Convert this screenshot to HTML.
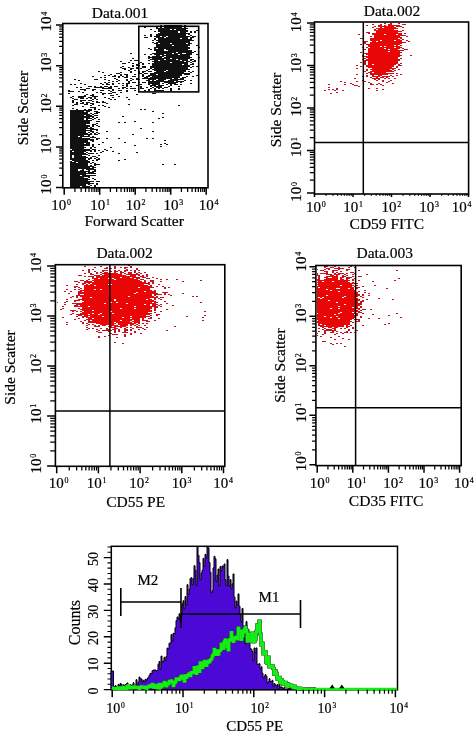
<!DOCTYPE html><html><head><meta charset="utf-8"><style>html,body{margin:0;padding:0;background:#fff;width:476px;height:736px;overflow:hidden}svg{display:block;filter:blur(0.4px)}text{font-family:"Liberation Serif", serif;fill:#000;stroke:#000;stroke-width:0.2px}</style></head><body><svg width="476" height="736" viewBox="0 0 476 736"><path d="M160 25h2v1h-2zM164 25h18v1h-18zM184 25h2v1h-2zM156 26h28v1h-28zM186 26h4v1h-4zM144 27h2v1h-2zM156 27h2v1h-2zM160 27h2v1h-2zM164 27h18v1h-18zM184 27h2v1h-2zM156 28h32v1h-32zM150 29h2v1h-2zM158 29h12v1h-12zM172 29h2v1h-2zM176 29h10v1h-10zM158 30h30v1h-30zM196 30h2v1h-2zM154 31h2v1h-2zM158 31h20v1h-20zM180 31h8v1h-8zM190 31h2v1h-2zM194 31h2v1h-2zM160 32h18v1h-18zM180 32h6v1h-6zM190 32h2v1h-2zM194 32h2v1h-2zM158 33h32v1h-32zM150 34h2v1h-2zM156 34h30v1h-30zM188 34h2v1h-2zM144 35h2v1h-2zM150 35h2v1h-2zM156 35h30v1h-30zM190 35h2v1h-2zM150 36h2v1h-2zM154 36h6v1h-6zM162 36h4v1h-4zM168 36h22v1h-22zM192 36h4v1h-4zM144 37h4v1h-4zM156 37h8v1h-8zM166 37h22v1h-22zM190 37h4v1h-4zM154 38h2v1h-2zM158 38h22v1h-22zM182 38h6v1h-6zM190 38h2v1h-2zM154 39h2v1h-2zM158 39h34v1h-34zM152 40h2v1h-2zM156 40h38v1h-38zM158 41h32v1h-32zM152 42h2v1h-2zM156 42h34v1h-34zM154 43h4v1h-4zM160 43h10v1h-10zM172 43h14v1h-14zM188 43h4v1h-4zM156 44h34v1h-34zM156 45h16v1h-16zM174 45h16v1h-16zM196 45h2v1h-2zM156 46h32v1h-32zM154 47h36v1h-36zM198 47h2v1h-2zM148 48h2v1h-2zM154 48h2v1h-2zM158 48h32v1h-32zM150 49h2v1h-2zM154 49h10v1h-10zM166 49h22v1h-22zM154 50h10v1h-10zM168 50h24v1h-24zM156 51h36v1h-36zM194 51h2v1h-2zM156 52h20v1h-20zM178 52h16v1h-16zM130 53h2v1h-2zM152 53h20v1h-20zM174 53h8v1h-8zM186 53h6v1h-6zM144 54h2v1h-2zM150 54h2v1h-2zM154 54h10v1h-10zM166 54h12v1h-12zM180 54h12v1h-12zM196 54h2v1h-2zM156 55h4v1h-4zM162 55h28v1h-28zM148 56h2v1h-2zM152 56h12v1h-12zM166 56h24v1h-24zM148 57h14v1h-14zM164 57h28v1h-28zM198 57h2v1h-2zM132 58h2v1h-2zM148 58h2v1h-2zM152 58h18v1h-18zM172 58h18v1h-18zM150 59h14v1h-14zM166 59h10v1h-10zM178 59h10v1h-10zM190 59h4v1h-4zM130 60h2v1h-2zM134 60h4v1h-4zM148 60h2v1h-2zM154 60h4v1h-4zM160 60h20v1h-20zM182 60h6v1h-6zM190 60h2v1h-2zM194 60h2v1h-2zM120 61h2v1h-2zM152 61h32v1h-32zM186 61h4v1h-4zM192 61h4v1h-4zM128 62h2v1h-2zM140 62h2v1h-2zM154 62h16v1h-16zM172 62h16v1h-16zM190 62h2v1h-2zM122 63h4v1h-4zM132 63h2v1h-2zM138 63h2v1h-2zM142 63h2v1h-2zM148 63h2v1h-2zM152 63h36v1h-36zM192 63h2v1h-2zM136 64h2v1h-2zM142 64h2v1h-2zM152 64h30v1h-30zM184 64h4v1h-4zM190 64h4v1h-4zM132 65h2v1h-2zM136 65h4v1h-4zM152 65h38v1h-38zM122 66h2v1h-2zM132 66h2v1h-2zM142 66h4v1h-4zM150 66h40v1h-40zM192 66h2v1h-2zM196 66h2v1h-2zM120 67h2v1h-2zM128 67h2v1h-2zM136 67h2v1h-2zM142 67h4v1h-4zM150 67h38v1h-38zM190 67h2v1h-2zM122 68h4v1h-4zM130 68h4v1h-4zM136 68h2v1h-2zM140 68h2v1h-2zM150 68h2v1h-2zM154 68h34v1h-34zM124 69h2v1h-2zM130 69h2v1h-2zM148 69h2v1h-2zM152 69h38v1h-38zM128 70h2v1h-2zM134 70h2v1h-2zM146 70h2v1h-2zM154 70h12v1h-12zM168 70h18v1h-18zM98 71h2v1h-2zM130 71h2v1h-2zM138 71h2v1h-2zM142 71h4v1h-4zM148 71h4v1h-4zM156 71h8v1h-8zM166 71h20v1h-20zM188 71h2v1h-2zM192 71h2v1h-2zM102 72h2v1h-2zM120 72h2v1h-2zM130 72h2v1h-2zM138 72h2v1h-2zM142 72h2v1h-2zM154 72h30v1h-30zM190 72h2v1h-2zM116 73h4v1h-4zM138 73h4v1h-4zM144 73h4v1h-4zM150 73h40v1h-40zM110 74h2v1h-2zM120 74h2v1h-2zM124 74h4v1h-4zM134 74h2v1h-2zM142 74h2v1h-2zM150 74h6v1h-6zM158 74h24v1h-24zM184 74h6v1h-6zM104 75h2v1h-2zM108 75h2v1h-2zM114 75h2v1h-2zM120 75h2v1h-2zM126 75h2v1h-2zM142 75h2v1h-2zM148 75h34v1h-34zM196 75h2v1h-2zM92 76h2v1h-2zM112 76h4v1h-4zM118 76h2v1h-2zM122 76h2v1h-2zM126 76h2v1h-2zM132 76h4v1h-4zM142 76h2v1h-2zM146 76h4v1h-4zM152 76h28v1h-28zM186 76h2v1h-2zM192 76h2v1h-2zM100 77h2v1h-2zM104 77h2v1h-2zM118 77h2v1h-2zM124 77h4v1h-4zM144 77h4v1h-4zM150 77h30v1h-30zM182 77h4v1h-4zM114 78h2v1h-2zM130 78h2v1h-2zM136 78h2v1h-2zM142 78h30v1h-30zM174 78h4v1h-4zM180 78h4v1h-4zM74 79h2v1h-2zM94 79h4v1h-4zM104 79h2v1h-2zM116 79h2v1h-2zM126 79h2v1h-2zM132 79h2v1h-2zM136 79h4v1h-4zM148 79h8v1h-8zM158 79h8v1h-8zM170 79h14v1h-14zM78 80h2v1h-2zM108 80h2v1h-2zM118 80h2v1h-2zM126 80h2v1h-2zM130 80h2v1h-2zM146 80h4v1h-4zM152 80h2v1h-2zM156 80h8v1h-8zM168 80h10v1h-10zM184 80h2v1h-2zM190 80h2v1h-2zM112 81h2v1h-2zM116 81h2v1h-2zM128 81h2v1h-2zM148 81h26v1h-26zM176 81h8v1h-8zM104 82h2v1h-2zM108 82h2v1h-2zM128 82h2v1h-2zM132 82h4v1h-4zM138 82h2v1h-2zM142 82h4v1h-4zM148 82h12v1h-12zM164 82h14v1h-14zM180 82h2v1h-2zM80 83h2v1h-2zM100 83h2v1h-2zM106 83h2v1h-2zM112 83h2v1h-2zM118 83h2v1h-2zM122 83h2v1h-2zM126 83h4v1h-4zM148 83h12v1h-12zM162 83h2v1h-2zM168 83h8v1h-8zM190 83h2v1h-2zM70 84h2v1h-2zM74 84h2v1h-2zM84 84h2v1h-2zM102 84h2v1h-2zM106 84h4v1h-4zM112 84h2v1h-2zM126 84h2v1h-2zM138 84h4v1h-4zM148 84h2v1h-2zM152 84h8v1h-8zM166 84h2v1h-2zM170 84h2v1h-2zM174 84h4v1h-4zM180 84h2v1h-2zM122 85h2v1h-2zM126 85h2v1h-2zM136 85h2v1h-2zM150 85h6v1h-6zM158 85h6v1h-6zM170 85h2v1h-2zM88 86h4v1h-4zM94 86h2v1h-2zM100 86h2v1h-2zM104 86h4v1h-4zM110 86h2v1h-2zM114 86h4v1h-4zM126 86h2v1h-2zM130 86h2v1h-2zM140 86h2v1h-2zM150 86h2v1h-2zM154 86h8v1h-8zM168 86h2v1h-2zM178 86h2v1h-2zM76 87h2v1h-2zM80 87h2v1h-2zM94 87h10v1h-10zM108 87h4v1h-4zM122 87h4v1h-4zM140 87h2v1h-2zM146 87h2v1h-2zM152 87h2v1h-2zM156 87h6v1h-6zM164 87h4v1h-4zM86 88h4v1h-4zM102 88h10v1h-10zM118 88h2v1h-2zM122 88h2v1h-2zM126 88h2v1h-2zM130 88h6v1h-6zM140 88h4v1h-4zM150 88h2v1h-2zM154 88h2v1h-2zM158 88h2v1h-2zM162 88h2v1h-2zM170 88h2v1h-2zM178 88h2v1h-2zM80 89h6v1h-6zM92 89h4v1h-4zM112 89h2v1h-2zM148 89h2v1h-2zM154 89h2v1h-2zM170 89h2v1h-2zM178 89h2v1h-2zM68 90h2v1h-2zM84 90h2v1h-2zM92 90h2v1h-2zM100 90h4v1h-4zM108 90h2v1h-2zM112 90h2v1h-2zM118 90h4v1h-4zM126 90h2v1h-2zM134 90h2v1h-2zM144 90h2v1h-2zM148 90h2v1h-2zM154 90h10v1h-10zM170 90h2v1h-2zM68 91h6v1h-6zM78 91h2v1h-2zM110 91h2v1h-2zM126 91h2v1h-2zM82 92h2v1h-2zM96 92h2v1h-2zM100 92h2v1h-2zM112 92h4v1h-4zM120 92h2v1h-2zM68 93h2v1h-2zM102 93h4v1h-4zM108 93h4v1h-4zM152 93h4v1h-4zM86 94h2v1h-2zM92 94h2v1h-2zM102 94h2v1h-2zM116 94h2v1h-2zM136 94h2v1h-2zM84 95h2v1h-2zM90 95h4v1h-4zM110 95h4v1h-4zM72 96h2v1h-2zM78 96h8v1h-8zM92 96h6v1h-6zM118 96h2v1h-2zM70 97h2v1h-2zM78 97h6v1h-6zM88 97h4v1h-4zM94 97h2v1h-2zM104 97h2v1h-2zM112 97h2v1h-2zM126 97h2v1h-2zM72 98h2v1h-2zM80 98h4v1h-4zM86 98h2v1h-2zM90 98h2v1h-2zM94 98h2v1h-2zM108 98h2v1h-2zM74 99h4v1h-4zM92 99h2v1h-2zM96 99h2v1h-2zM110 99h2v1h-2zM114 99h2v1h-2zM128 99h2v1h-2zM72 100h2v1h-2zM80 100h6v1h-6zM88 100h4v1h-4zM72 101h2v1h-2zM80 101h2v1h-2zM92 101h2v1h-2zM96 101h2v1h-2zM102 101h2v1h-2zM72 102h2v1h-2zM76 102h2v1h-2zM82 102h2v1h-2zM86 102h4v1h-4zM96 102h4v1h-4zM102 102h4v1h-4zM76 103h2v1h-2zM80 103h4v1h-4zM86 103h2v1h-2zM90 103h4v1h-4zM106 103h2v1h-2zM74 104h4v1h-4zM84 104h4v1h-4zM92 104h2v1h-2zM128 104h2v1h-2zM72 105h2v1h-2zM90 105h2v1h-2zM98 105h2v1h-2zM102 105h2v1h-2zM178 105h2v1h-2zM82 106h2v1h-2zM104 106h2v1h-2zM90 107h6v1h-6zM108 107h2v1h-2zM72 108h2v1h-2zM94 108h2v1h-2zM76 109h2v1h-2zM84 109h2v1h-2zM88 109h4v1h-4zM94 109h2v1h-2zM98 109h2v1h-2zM140 109h2v1h-2zM144 109h2v1h-2zM70 110h22v1h-22zM70 111h14v1h-14zM86 111h4v1h-4zM94 111h4v1h-4zM152 111h2v1h-2zM70 112h18v1h-18zM96 112h4v1h-4zM70 113h18v1h-18zM90 113h2v1h-2zM94 113h4v1h-4zM162 113h2v1h-2zM70 114h20v1h-20zM92 114h2v1h-2zM70 115h14v1h-14zM86 115h6v1h-6zM94 115h4v1h-4zM70 116h24v1h-24zM122 116h2v1h-2zM70 117h20v1h-20zM92 117h2v1h-2zM96 117h2v1h-2zM162 117h2v1h-2zM70 118h14v1h-14zM86 118h6v1h-6zM94 118h2v1h-2zM158 118h2v1h-2zM70 119h14v1h-14zM86 119h2v1h-2zM92 119h2v1h-2zM98 119h2v1h-2zM70 120h22v1h-22zM70 121h20v1h-20zM96 121h4v1h-4zM134 121h2v1h-2zM70 122h20v1h-20zM118 122h2v1h-2zM124 122h2v1h-2zM152 122h2v1h-2zM70 123h20v1h-20zM96 123h2v1h-2zM70 124h16v1h-16zM92 124h4v1h-4zM70 125h20v1h-20zM92 125h2v1h-2zM96 125h2v1h-2zM70 126h20v1h-20zM92 126h2v1h-2zM98 126h2v1h-2zM70 127h18v1h-18zM90 127h2v1h-2zM70 128h24v1h-24zM140 128h2v1h-2zM70 129h16v1h-16zM90 129h8v1h-8zM70 130h22v1h-22zM96 130h2v1h-2zM70 131h16v1h-16zM90 131h4v1h-4zM106 131h2v1h-2zM152 131h2v1h-2zM70 132h16v1h-16zM88 132h2v1h-2zM92 132h2v1h-2zM96 132h2v1h-2zM70 133h18v1h-18zM90 133h2v1h-2zM94 133h2v1h-2zM98 133h2v1h-2zM70 134h22v1h-22zM94 134h4v1h-4zM132 134h2v1h-2zM70 135h14v1h-14zM88 135h2v1h-2zM70 136h8v1h-8zM80 136h10v1h-10zM92 136h2v1h-2zM70 137h12v1h-12zM90 137h6v1h-6zM70 138h20v1h-20zM96 138h4v1h-4zM106 138h2v1h-2zM118 138h2v1h-2zM146 138h2v1h-2zM152 138h2v1h-2zM70 139h24v1h-24zM96 139h2v1h-2zM70 140h18v1h-18zM90 140h4v1h-4zM164 140h2v1h-2zM70 141h18v1h-18zM92 141h2v1h-2zM70 142h20v1h-20zM102 142h2v1h-2zM124 142h2v1h-2zM70 143h14v1h-14zM86 143h4v1h-4zM164 143h2v1h-2zM70 144h20v1h-20zM92 144h2v1h-2zM98 144h2v1h-2zM160 144h2v1h-2zM166 144h2v1h-2zM70 145h20v1h-20zM92 145h2v1h-2zM134 145h2v1h-2zM70 146h14v1h-14zM92 146h2v1h-2zM160 146h2v1h-2zM70 147h16v1h-16zM90 147h2v1h-2zM94 147h2v1h-2zM110 147h2v1h-2zM70 148h14v1h-14zM90 148h2v1h-2zM72 149h18v1h-18zM92 149h4v1h-4zM104 149h2v1h-2zM70 150h22v1h-22zM94 150h2v1h-2zM98 150h2v1h-2zM106 150h2v1h-2zM70 151h2v1h-2zM74 151h12v1h-12zM90 151h2v1h-2zM94 151h2v1h-2zM102 151h2v1h-2zM112 151h2v1h-2zM70 152h14v1h-14zM86 152h2v1h-2zM100 152h2v1h-2zM136 152h2v1h-2zM70 153h16v1h-16zM88 153h6v1h-6zM96 153h2v1h-2zM118 153h2v1h-2zM70 154h18v1h-18zM70 155h2v1h-2zM74 155h8v1h-8zM88 155h2v1h-2zM98 155h2v1h-2zM70 156h2v1h-2zM74 156h12v1h-12zM92 156h4v1h-4zM70 157h2v1h-2zM74 157h14v1h-14zM90 157h2v1h-2zM96 157h2v1h-2zM70 158h16v1h-16zM88 158h4v1h-4zM94 158h2v1h-2zM98 158h2v1h-2zM70 159h16v1h-16zM88 159h2v1h-2zM96 159h4v1h-4zM124 159h2v1h-2zM72 160h16v1h-16zM92 160h2v1h-2zM96 160h2v1h-2zM118 160h2v1h-2zM70 161h2v1h-2zM74 161h16v1h-16zM70 162h6v1h-6zM78 162h12v1h-12zM92 162h2v1h-2zM70 163h18v1h-18zM90 163h2v1h-2zM94 163h2v1h-2zM70 164h18v1h-18zM94 164h6v1h-6zM162 164h2v1h-2zM174 164h2v1h-2zM70 165h18v1h-18zM90 165h2v1h-2zM94 165h2v1h-2zM70 166h24v1h-24zM70 167h20v1h-20zM92 167h4v1h-4zM70 168h24v1h-24zM70 169h8v1h-8zM82 169h2v1h-2zM86 169h10v1h-10zM70 170h8v1h-8zM80 170h4v1h-4zM88 170h2v1h-2zM94 170h2v1h-2zM70 171h20v1h-20zM92 171h4v1h-4zM70 172h16v1h-16zM88 172h6v1h-6zM70 173h26v1h-26zM70 174h16v1h-16zM70 175h10v1h-10zM82 175h14v1h-14zM70 176h20v1h-20zM70 177h14v1h-14zM88 177h2v1h-2zM70 178h18v1h-18zM92 178h2v1h-2zM70 179h20v1h-20zM94 179h2v1h-2zM70 180h18v1h-18zM70 181h24v1h-24zM96 181h4v1h-4zM70 182h20v1h-20zM70 183h24v1h-24zM96 183h2v1h-2zM70 184h16v1h-16zM88 184h2v1h-2zM96 184h2v1h-2zM70 185h16v1h-16zM90 185h2v1h-2zM94 185h2v1h-2zM70 186h10v1h-10zM82 186h8v1h-8zM94 186h2v1h-2z" fill="#111"/><rect x="62.8" y="23.5" width="145.2" height="164.3" fill="none" stroke="#000" stroke-width="1.6"/><rect x="138.8" y="26.3" width="59.9" height="65.6" fill="none" stroke="#000" stroke-width="1.6"/><path d="M64.2 187.8L64.2 194.8M99.7 187.8L99.7 194.8M135.2 187.8L135.2 194.8M170.7 187.8L170.7 194.8M206.2 187.8L206.2 194.8" stroke="#000" stroke-width="1.5" fill="none"/><path d="M74.89 187.8L74.89 192.1M81.14 187.8L81.14 192.1M85.57 187.8L85.57 192.1M89.01 187.8L89.01 192.1M91.82 187.8L91.82 192.1M94.2 187.8L94.2 192.1M96.26 187.8L96.26 192.1M98.08 187.8L98.08 192.1M110.39 187.8L110.39 192.1M116.64 187.8L116.64 192.1M121.07 187.8L121.07 192.1M124.51 187.8L124.51 192.1M127.32 187.8L127.32 192.1M129.7 187.8L129.7 192.1M131.76 187.8L131.76 192.1M133.58 187.8L133.58 192.1M145.89 187.8L145.89 192.1M152.14 187.8L152.14 192.1M156.57 187.8L156.57 192.1M160.01 187.8L160.01 192.1M162.82 187.8L162.82 192.1M165.2 187.8L165.2 192.1M167.26 187.8L167.26 192.1M169.08 187.8L169.08 192.1M181.39 187.8L181.39 192.1M187.64 187.8L187.64 192.1M192.07 187.8L192.07 192.1M195.51 187.8L195.51 192.1M198.32 187.8L198.32 192.1M200.7 187.8L200.7 192.1M202.76 187.8L202.76 192.1M204.58 187.8L204.58 192.1" stroke="#000" stroke-width="1.25" fill="none"/><path d="M62.8 187.5L56 187.5M62.8 146.9L56 146.9M62.8 106.3L56 106.3M62.8 65.7L56 65.7M62.8 25.1L56 25.1" stroke="#000" stroke-width="1.5" fill="none"/><path d="M62.8 175.28L59.2 175.28M62.8 168.13L59.2 168.13M62.8 163.06L59.2 163.06M62.8 159.12L59.2 159.12M62.8 155.91L59.2 155.91M62.8 153.19L59.2 153.19M62.8 150.83L59.2 150.83M62.8 148.76L59.2 148.76M62.8 134.68L59.2 134.68M62.8 127.53L59.2 127.53M62.8 122.46L59.2 122.46M62.8 118.52L59.2 118.52M62.8 115.31L59.2 115.31M62.8 112.59L59.2 112.59M62.8 110.23L59.2 110.23M62.8 108.16L59.2 108.16M62.8 94.08L59.2 94.08M62.8 86.93L59.2 86.93M62.8 81.86L59.2 81.86M62.8 77.92L59.2 77.92M62.8 74.71L59.2 74.71M62.8 71.99L59.2 71.99M62.8 69.63L59.2 69.63M62.8 67.56L59.2 67.56M62.8 53.48L59.2 53.48M62.8 46.33L59.2 46.33M62.8 41.26L59.2 41.26M62.8 37.32L59.2 37.32M62.8 34.11L59.2 34.11M62.8 31.39L59.2 31.39M62.8 29.03L59.2 29.03M62.8 26.96L59.2 26.96" stroke="#000" stroke-width="1.25" fill="none"/><g transform="translate(61 209.6)"><text x="0" y="0" font-size="15" text-anchor="middle">10<tspan font-size="7.95" dy="-4.6" dx="0.8">0</tspan></text></g><g transform="translate(100 209.6)"><text x="0" y="0" font-size="15" text-anchor="middle">10<tspan font-size="7.95" dy="-4.6" dx="0.8">1</tspan></text></g><g transform="translate(135.5 209.6)"><text x="0" y="0" font-size="15" text-anchor="middle">10<tspan font-size="7.95" dy="-4.6" dx="0.8">2</tspan></text></g><g transform="translate(173.3 209.6)"><text x="0" y="0" font-size="15" text-anchor="middle">10<tspan font-size="7.95" dy="-4.6" dx="0.8">3</tspan></text></g><g transform="translate(208.5 209.6)"><text x="0" y="0" font-size="15" text-anchor="middle">10<tspan font-size="7.95" dy="-4.6" dx="0.8">4</tspan></text></g><g transform="translate(51.2 186.9) rotate(-90)"><text x="-7.5" y="0" font-size="15">10<tspan font-size="7.95" dy="-4.6" dx="0.8">0</tspan></text></g><g transform="translate(51.2 146.3) rotate(-90)"><text x="-7.5" y="0" font-size="15">10<tspan font-size="7.95" dy="-4.6" dx="0.8">1</tspan></text></g><g transform="translate(51.2 105.7) rotate(-90)"><text x="-7.5" y="0" font-size="15">10<tspan font-size="7.95" dy="-4.6" dx="0.8">2</tspan></text></g><g transform="translate(51.2 65.1) rotate(-90)"><text x="-7.5" y="0" font-size="15">10<tspan font-size="7.95" dy="-4.6" dx="0.8">3</tspan></text></g><g transform="translate(51.2 24.1) rotate(-90)"><text x="-7.5" y="0" font-size="15">10<tspan font-size="7.95" dy="-4.6" dx="0.8">4</tspan></text></g><text x="120" y="18" font-size="15.5" text-anchor="middle">Data.001</text><text x="134.2" y="226" font-size="15.5" text-anchor="middle">Forward Scatter</text><text x="28.3" y="108" font-size="15.5" text-anchor="middle" transform="rotate(-90 28.3 108)">Side Scatter</text><path d="M385 23h1v1h-1zM390 23h2v1h-2zM388 24h4v1h-4zM381 25h1v1h-1zM384 25h2v1h-2zM388 25h8v1h-8zM380 26h14v1h-14zM396 26h1v1h-1zM380 27h2v1h-2zM384 27h12v1h-12zM378 28h20v1h-20zM378 29h16v1h-16zM376 30h22v1h-22zM376 31h24v1h-24zM376 32h22v1h-22zM374 33h27v1h-27zM373 34h11v1h-11zM386 34h10v1h-10zM398 34h3v1h-3zM374 35h27v1h-27zM374 36h26v1h-26zM374 37h28v1h-28zM371 38h27v1h-27zM400 38h2v1h-2zM370 39h30v1h-30zM370 40h10v1h-10zM382 40h12v1h-12zM396 40h6v1h-6zM372 41h4v1h-4zM378 41h24v1h-24zM370 42h32v1h-32zM370 43h32v1h-32zM368 44h32v1h-32zM368 45h26v1h-26zM396 45h2v1h-2zM400 45h2v1h-2zM368 46h12v1h-12zM382 46h2v1h-2zM386 46h14v1h-14zM370 47h24v1h-24zM396 47h5v1h-5zM368 48h16v1h-16zM386 48h14v1h-14zM368 49h20v1h-20zM390 49h8v1h-8zM368 50h33v1h-33zM368 51h20v1h-20zM390 51h10v1h-10zM368 52h32v1h-32zM366 53h34v1h-34zM366 54h34v1h-34zM368 55h32v1h-32zM366 56h33v1h-33zM366 57h32v1h-32zM368 58h30v1h-30zM366 59h32v1h-32zM366 60h32v1h-32zM368 61h29v1h-29zM368 62h29v1h-29zM368 63h28v1h-28zM368 64h4v1h-4zM374 64h22v1h-22zM367 65h27v1h-27zM367 66h27v1h-27zM368 67h24v1h-24zM372 68h21v1h-21zM370 69h20v1h-20zM372 70h19v1h-19zM370 71h20v1h-20zM370 72h2v1h-2zM374 72h12v1h-12zM371 73h17v1h-17zM372 74h15v1h-15zM373 75h1v1h-1zM378 75h4v1h-4zM375 76h5v1h-5zM382 76h1v1h-1z" fill="#e80606"/><path d="M384 23h1v1h-1zM398 23h2v1h-2zM372 24h2v1h-2zM380 24h2v1h-2zM402 24h4v1h-4zM366 25h2v1h-2zM378 25h3v1h-3zM396 25h4v1h-4zM374 26h2v1h-2zM378 26h2v1h-2zM397 26h5v1h-5zM372 27h2v1h-2zM402 27h2v1h-2zM376 28h2v1h-2zM374 29h2v1h-2zM374 30h2v1h-2zM402 30h2v1h-2zM400 31h2v1h-2zM366 32h4v1h-4zM368 33h2v1h-2zM372 33h2v1h-2zM401 33h1v1h-1zM404 33h2v1h-2zM358 34h2v1h-2zM372 34h1v1h-1zM401 34h1v1h-1zM401 35h5v1h-5zM370 36h2v1h-2zM406 36h2v1h-2zM360 38h4v1h-4zM370 38h1v1h-1zM402 39h2v1h-2zM406 40h2v1h-2zM364 41h4v1h-4zM408 41h2v1h-2zM364 42h2v1h-2zM402 42h4v1h-4zM364 43h2v1h-2zM360 44h2v1h-2zM366 44h2v1h-2zM362 47h2v1h-2zM366 47h2v1h-2zM401 47h1v1h-1zM402 48h2v1h-2zM364 49h2v1h-2zM404 49h4v1h-4zM401 50h3v1h-3zM360 52h2v1h-2zM400 52h2v1h-2zM364 53h2v1h-2zM362 55h2v1h-2zM400 55h2v1h-2zM410 55h2v1h-2zM362 56h4v1h-4zM399 56h1v1h-1zM364 58h2v1h-2zM400 58h2v1h-2zM362 59h2v1h-2zM398 59h2v1h-2zM364 60h2v1h-2zM398 60h2v1h-2zM364 61h2v1h-2zM397 61h1v1h-1zM360 62h2v1h-2zM364 62h2v1h-2zM397 62h1v1h-1zM364 63h2v1h-2zM396 63h2v1h-2zM400 63h2v1h-2zM364 64h2v1h-2zM398 64h2v1h-2zM356 65h2v1h-2zM366 65h1v1h-1zM398 65h4v1h-4zM360 66h2v1h-2zM366 66h1v1h-1zM396 66h2v1h-2zM396 67h2v1h-2zM356 68h2v1h-2zM393 68h3v1h-3zM366 69h2v1h-2zM392 69h2v1h-2zM398 69h2v1h-2zM366 70h2v1h-2zM391 70h1v1h-1zM394 70h2v1h-2zM364 71h2v1h-2zM390 71h4v1h-4zM368 72h2v1h-2zM366 73h2v1h-2zM370 73h1v1h-1zM388 73h6v1h-6zM396 73h2v1h-2zM356 74h2v1h-2zM370 74h2v1h-2zM387 74h1v1h-1zM400 74h2v1h-2zM366 75h2v1h-2zM372 75h1v1h-1zM390 75h2v1h-2zM396 75h2v1h-2zM362 76h2v1h-2zM366 76h2v1h-2zM372 76h3v1h-3zM383 76h7v1h-7zM392 76h2v1h-2zM370 77h2v1h-2zM376 77h2v1h-2zM380 77h4v1h-4zM386 77h2v1h-2zM354 78h2v1h-2zM372 78h8v1h-8zM384 78h2v1h-2zM388 78h2v1h-2zM394 78h2v1h-2zM374 79h2v1h-2zM378 79h2v1h-2zM362 80h2v1h-2zM376 80h2v1h-2zM382 80h2v1h-2zM390 80h2v1h-2zM340 81h2v1h-2zM356 81h2v1h-2zM364 81h2v1h-2zM382 81h2v1h-2zM388 81h2v1h-2zM344 82h2v1h-2zM368 82h2v1h-2zM386 82h2v1h-2zM350 83h2v1h-2zM370 83h2v1h-2zM378 83h2v1h-2zM392 83h2v1h-2zM328 84h2v1h-2zM344 84h2v1h-2zM352 84h2v1h-2zM370 84h4v1h-4zM376 84h2v1h-2zM380 84h2v1h-2zM354 85h4v1h-4zM382 85h2v1h-2zM358 86h2v1h-2zM328 87h2v1h-2zM336 88h2v1h-2zM368 88h2v1h-2zM376 88h2v1h-2zM328 89h2v1h-2zM332 89h2v1h-2zM336 89h2v1h-2zM382 89h2v1h-2zM324 90h2v1h-2zM334 90h2v1h-2zM342 90h2v1h-2zM376 90h2v1h-2zM336 92h2v1h-2zM330 93h2v1h-2z" fill="#c8101c"/><rect x="314.5" y="22" width="154.1" height="172" fill="none" stroke="#000" stroke-width="1.6"/><path d="M363.3 22V194" stroke="#000" stroke-width="1.5"/><path d="M314.5 142.5H468.6" stroke="#000" stroke-width="1.5"/><path d="M314.5 194L314.5 197M353 194L353 197M391.5 194L391.5 197M430 194L430 197M468.5 194L468.5 197" stroke="#000" stroke-width="1.5" fill="none"/><path d="M326.09 194L326.09 195.8M332.87 194L332.87 195.8M337.68 194L337.68 195.8M341.41 194L341.41 195.8M344.46 194L344.46 195.8M347.04 194L347.04 195.8M349.27 194L349.27 195.8M351.24 194L351.24 195.8M364.59 194L364.59 195.8M371.37 194L371.37 195.8M376.18 194L376.18 195.8M379.91 194L379.91 195.8M382.96 194L382.96 195.8M385.54 194L385.54 195.8M387.77 194L387.77 195.8M389.74 194L389.74 195.8M403.09 194L403.09 195.8M409.87 194L409.87 195.8M414.68 194L414.68 195.8M418.41 194L418.41 195.8M421.46 194L421.46 195.8M424.04 194L424.04 195.8M426.27 194L426.27 195.8M428.24 194L428.24 195.8M441.59 194L441.59 195.8M448.37 194L448.37 195.8M453.18 194L453.18 195.8M456.91 194L456.91 195.8M459.96 194L459.96 195.8M462.54 194L462.54 195.8M464.77 194L464.77 195.8M466.74 194L466.74 195.8" stroke="#000" stroke-width="1.25" fill="none"/><path d="M314.5 193L307 193M314.5 150.5L307 150.5M314.5 108L307 108M314.5 65.5L307 65.5M314.5 23L307 23" stroke="#000" stroke-width="1.5" fill="none"/><path d="M314.5 180.21L309.8 180.21M314.5 172.72L309.8 172.72M314.5 167.41L309.8 167.41M314.5 163.29L309.8 163.29M314.5 159.93L309.8 159.93M314.5 157.08L309.8 157.08M314.5 154.62L309.8 154.62M314.5 152.44L309.8 152.44M314.5 137.71L309.8 137.71M314.5 130.22L309.8 130.22M314.5 124.91L309.8 124.91M314.5 120.79L309.8 120.79M314.5 117.43L309.8 117.43M314.5 114.58L309.8 114.58M314.5 112.12L309.8 112.12M314.5 109.94L309.8 109.94M314.5 95.21L309.8 95.21M314.5 87.72L309.8 87.72M314.5 82.41L309.8 82.41M314.5 78.29L309.8 78.29M314.5 74.93L309.8 74.93M314.5 72.08L309.8 72.08M314.5 69.62L309.8 69.62M314.5 67.44L309.8 67.44M314.5 52.71L309.8 52.71M314.5 45.22L309.8 45.22M314.5 39.91L309.8 39.91M314.5 35.79L309.8 35.79M314.5 32.43L309.8 32.43M314.5 29.58L309.8 29.58M314.5 27.12L309.8 27.12M314.5 24.94L309.8 24.94" stroke="#000" stroke-width="1.25" fill="none"/><g transform="translate(315.9 212)"><text x="0" y="0" font-size="15" text-anchor="middle">10<tspan font-size="7.95" dy="-4.6" dx="0.8">0</tspan></text></g><g transform="translate(353.2 212)"><text x="0" y="0" font-size="15" text-anchor="middle">10<tspan font-size="7.95" dy="-4.6" dx="0.8">1</tspan></text></g><g transform="translate(391.3 212)"><text x="0" y="0" font-size="15" text-anchor="middle">10<tspan font-size="7.95" dy="-4.6" dx="0.8">2</tspan></text></g><g transform="translate(429 212)"><text x="0" y="0" font-size="15" text-anchor="middle">10<tspan font-size="7.95" dy="-4.6" dx="0.8">3</tspan></text></g><g transform="translate(461.6 212)"><text x="0" y="0" font-size="15" text-anchor="middle">10<tspan font-size="7.95" dy="-4.6" dx="0.8">4</tspan></text></g><g transform="translate(301.3 194.3) rotate(-90)"><text x="-7.5" y="0" font-size="15">10<tspan font-size="7.95" dy="-4.6" dx="0.8">0</tspan></text></g><g transform="translate(301.3 149.5) rotate(-90)"><text x="-7.5" y="0" font-size="15">10<tspan font-size="7.95" dy="-4.6" dx="0.8">1</tspan></text></g><g transform="translate(301.3 109.1) rotate(-90)"><text x="-7.5" y="0" font-size="15">10<tspan font-size="7.95" dy="-4.6" dx="0.8">2</tspan></text></g><g transform="translate(301.3 65.5) rotate(-90)"><text x="-7.5" y="0" font-size="15">10<tspan font-size="7.95" dy="-4.6" dx="0.8">3</tspan></text></g><g transform="translate(301.3 24.8) rotate(-90)"><text x="-7.5" y="0" font-size="15">10<tspan font-size="7.95" dy="-4.6" dx="0.8">4</tspan></text></g><text x="392" y="16.4" font-size="15.5" text-anchor="middle">Data.002</text><text x="386.8" y="229" font-size="15.5" text-anchor="middle">CD59 FITC</text><text x="281.3" y="110" font-size="15.5" text-anchor="middle" transform="rotate(-90 281.3 110)">Side Scatter</text><path d="M107 273h11v1h-11zM120 273h2v1h-2zM124 273h1v1h-1zM104 274h18v1h-18zM126 274h3v1h-3zM99 275h1v1h-1zM102 275h24v1h-24zM130 275h3v1h-3zM97 276h38v1h-38zM96 277h24v1h-24zM122 277h8v1h-8zM132 277h5v1h-5zM93 278h5v1h-5zM100 278h8v1h-8zM110 278h2v1h-2zM114 278h20v1h-20zM136 278h3v1h-3zM94 279h20v1h-20zM116 279h22v1h-22zM140 279h1v1h-1zM92 280h48v1h-48zM88 281h4v1h-4zM94 281h48v1h-48zM87 282h58v1h-58zM88 283h2v1h-2zM92 283h54v1h-54zM86 284h2v1h-2zM90 284h18v1h-18zM112 284h32v1h-32zM84 285h10v1h-10zM96 285h52v1h-52zM84 286h65v1h-65zM84 287h54v1h-54zM140 287h10v1h-10zM84 288h66v1h-66zM84 289h10v1h-10zM96 289h4v1h-4zM102 289h48v1h-48zM80 290h72v1h-72zM80 291h2v1h-2zM84 291h60v1h-60zM146 291h6v1h-6zM79 292h57v1h-57zM138 292h15v1h-15zM79 293h55v1h-55zM136 293h17v1h-17zM79 294h1v1h-1zM84 294h68v1h-68zM78 295h74v1h-74zM80 296h48v1h-48zM130 296h24v1h-24zM82 297h8v1h-8zM92 297h62v1h-62zM82 298h68v1h-68zM78 299h36v1h-36zM116 299h30v1h-30zM148 299h4v1h-4zM78 300h2v1h-2zM82 300h32v1h-32zM116 300h38v1h-38zM84 301h70v1h-70zM82 302h28v1h-28zM112 302h4v1h-4zM118 302h34v1h-34zM78 303h26v1h-26zM106 303h20v1h-20zM128 303h26v1h-26zM78 304h66v1h-66zM146 304h4v1h-4zM152 304h2v1h-2zM80 305h70v1h-70zM152 305h2v1h-2zM79 306h9v1h-9zM90 306h44v1h-44zM136 306h17v1h-17zM82 307h70v1h-70zM79 308h1v1h-1zM82 308h38v1h-38zM122 308h12v1h-12zM136 308h16v1h-16zM80 309h70v1h-70zM82 310h10v1h-10zM94 310h58v1h-58zM81 311h1v1h-1zM84 311h26v1h-26zM112 311h39v1h-39zM82 312h66v1h-66zM82 313h10v1h-10zM94 313h6v1h-6zM102 313h10v1h-10zM114 313h36v1h-36zM83 314h5v1h-5zM90 314h8v1h-8zM100 314h49v1h-49zM84 315h62v1h-62zM85 316h3v1h-3zM90 316h12v1h-12zM104 316h26v1h-26zM132 316h15v1h-15zM86 317h36v1h-36zM124 317h22v1h-22zM88 318h4v1h-4zM94 318h36v1h-36zM132 318h8v1h-8zM142 318h2v1h-2zM88 319h52v1h-52zM142 319h2v1h-2zM92 320h28v1h-28zM122 320h10v1h-10zM134 320h6v1h-6zM91 321h39v1h-39zM132 321h8v1h-8zM93 322h21v1h-21zM116 322h16v1h-16zM134 322h5v1h-5zM96 323h20v1h-20zM118 323h18v1h-18zM100 324h14v1h-14zM118 324h10v1h-10zM130 324h4v1h-4zM99 325h1v1h-1zM102 325h4v1h-4zM110 325h8v1h-8zM120 325h8v1h-8zM130 325h2v1h-2zM108 326h4v1h-4zM114 326h12v1h-12zM110 327h6v1h-6zM120 327h2v1h-2z" fill="#e80606"/><path d="M128 265h2v1h-2zM84 266h2v1h-2zM100 266h2v1h-2zM114 266h2v1h-2zM130 266h2v1h-2zM94 267h2v1h-2zM106 267h2v1h-2zM114 267h2v1h-2zM120 267h2v1h-2zM124 267h4v1h-4zM130 267h2v1h-2zM104 268h4v1h-4zM110 268h2v1h-2zM114 268h2v1h-2zM124 268h2v1h-2zM136 268h2v1h-2zM88 269h2v1h-2zM92 269h2v1h-2zM126 269h2v1h-2zM136 269h2v1h-2zM82 270h2v1h-2zM88 270h2v1h-2zM102 270h6v1h-6zM114 270h2v1h-2zM118 270h2v1h-2zM124 270h4v1h-4zM130 270h2v1h-2zM134 270h2v1h-2zM138 270h2v1h-2zM88 271h2v1h-2zM94 271h2v1h-2zM102 271h2v1h-2zM110 271h2v1h-2zM114 271h4v1h-4zM120 271h2v1h-2zM124 271h2v1h-2zM134 271h2v1h-2zM88 272h2v1h-2zM96 272h2v1h-2zM100 272h2v1h-2zM104 272h4v1h-4zM114 272h2v1h-2zM120 272h4v1h-4zM128 272h4v1h-4zM134 272h2v1h-2zM138 272h2v1h-2zM144 272h2v1h-2zM84 273h2v1h-2zM90 273h2v1h-2zM96 273h2v1h-2zM102 273h5v1h-5zM125 273h1v1h-1zM128 273h4v1h-4zM136 273h2v1h-2zM140 273h2v1h-2zM90 274h4v1h-4zM100 274h2v1h-2zM129 274h11v1h-11zM146 274h2v1h-2zM78 275h4v1h-4zM94 275h5v1h-5zM133 275h3v1h-3zM138 275h2v1h-2zM142 275h2v1h-2zM146 275h2v1h-2zM84 276h2v1h-2zM88 276h6v1h-6zM96 276h1v1h-1zM135 276h1v1h-1zM140 276h4v1h-4zM146 276h2v1h-2zM92 277h2v1h-2zM137 277h3v1h-3zM142 277h4v1h-4zM152 277h2v1h-2zM92 278h1v1h-1zM139 278h1v1h-1zM146 278h4v1h-4zM156 278h2v1h-2zM88 279h2v1h-2zM141 279h3v1h-3zM160 279h2v1h-2zM166 279h2v1h-2zM176 279h2v1h-2zM80 280h4v1h-4zM86 280h2v1h-2zM144 280h2v1h-2zM150 280h4v1h-4zM200 280h2v1h-2zM74 281h4v1h-4zM84 281h4v1h-4zM144 281h2v1h-2zM150 281h4v1h-4zM160 281h2v1h-2zM182 281h2v1h-2zM78 282h2v1h-2zM84 282h3v1h-3zM145 282h1v1h-1zM148 282h2v1h-2zM152 282h2v1h-2zM82 283h4v1h-4zM146 283h4v1h-4zM152 283h2v1h-2zM76 284h2v1h-2zM82 284h2v1h-2zM148 284h2v1h-2zM158 284h2v1h-2zM66 285h2v1h-2zM150 285h2v1h-2zM74 286h4v1h-4zM149 286h3v1h-3zM156 286h2v1h-2zM162 286h2v1h-2zM74 287h2v1h-2zM78 287h2v1h-2zM150 287h4v1h-4zM164 287h2v1h-2zM168 287h2v1h-2zM80 288h2v1h-2zM164 288h2v1h-2zM66 289h2v1h-2zM74 289h2v1h-2zM78 289h2v1h-2zM154 290h2v1h-2zM64 291h2v1h-2zM70 291h2v1h-2zM78 291h2v1h-2zM152 291h4v1h-4zM78 292h1v1h-1zM153 292h3v1h-3zM162 292h6v1h-6zM68 293h2v1h-2zM78 293h1v1h-1zM153 293h5v1h-5zM164 293h2v1h-2zM182 293h2v1h-2zM78 294h1v1h-1zM154 294h8v1h-8zM164 294h2v1h-2zM168 294h2v1h-2zM76 295h2v1h-2zM154 295h2v1h-2zM170 295h2v1h-2zM72 296h2v1h-2zM76 296h2v1h-2zM156 296h2v1h-2zM192 296h2v1h-2zM196 296h2v1h-2zM70 297h2v1h-2zM76 297h2v1h-2zM154 297h4v1h-4zM160 297h4v1h-4zM154 298h2v1h-2zM158 298h2v1h-2zM66 299h2v1h-2zM154 299h2v1h-2zM160 299h2v1h-2zM74 300h4v1h-4zM66 301h2v1h-2zM74 301h2v1h-2zM154 301h2v1h-2zM164 301h2v1h-2zM57 302h1v1h-1zM64 302h2v1h-2zM154 302h4v1h-4zM200 302h2v1h-2zM72 303h6v1h-6zM154 303h2v1h-2zM166 303h2v1h-2zM64 304h2v1h-2zM76 304h2v1h-2zM154 304h4v1h-4zM160 304h2v1h-2zM74 305h4v1h-4zM154 305h2v1h-2zM158 305h2v1h-2zM172 305h2v1h-2zM62 306h2v1h-2zM74 306h5v1h-5zM153 306h5v1h-5zM160 306h2v1h-2zM154 307h4v1h-4zM62 308h2v1h-2zM78 308h1v1h-1zM154 308h2v1h-2zM60 309h2v1h-2zM154 309h2v1h-2zM166 309h2v1h-2zM70 310h6v1h-6zM154 310h2v1h-2zM72 311h2v1h-2zM76 311h2v1h-2zM80 311h1v1h-1zM151 311h1v1h-1zM160 311h2v1h-2zM204 311h2v1h-2zM154 312h2v1h-2zM72 313h2v1h-2zM80 313h2v1h-2zM150 313h2v1h-2zM70 314h2v1h-2zM76 314h7v1h-7zM149 314h1v1h-1zM156 314h4v1h-4zM78 315h4v1h-4zM150 315h2v1h-2zM156 315h2v1h-2zM204 315h2v1h-2zM76 316h2v1h-2zM82 316h3v1h-3zM147 316h3v1h-3zM186 316h2v1h-2zM62 317h2v1h-2zM82 317h2v1h-2zM150 317h2v1h-2zM202 317h2v1h-2zM78 318h2v1h-2zM148 318h4v1h-4zM158 318h2v1h-2zM74 319h2v1h-2zM86 319h2v1h-2zM84 320h2v1h-2zM88 320h2v1h-2zM142 320h6v1h-6zM154 320h2v1h-2zM202 320h2v1h-2zM80 321h2v1h-2zM88 321h3v1h-3zM146 321h4v1h-4zM66 322h2v1h-2zM82 322h2v1h-2zM88 322h5v1h-5zM139 322h1v1h-1zM82 323h2v1h-2zM86 323h2v1h-2zM138 323h2v1h-2zM142 323h2v1h-2zM146 323h2v1h-2zM66 324h2v1h-2zM88 324h2v1h-2zM92 324h2v1h-2zM136 324h2v1h-2zM86 325h2v1h-2zM94 325h2v1h-2zM98 325h1v1h-1zM134 325h2v1h-2zM138 325h2v1h-2zM144 325h2v1h-2zM94 326h6v1h-6zM136 326h2v1h-2zM174 326h2v1h-2zM86 327h2v1h-2zM126 327h2v1h-2zM130 327h2v1h-2zM136 327h6v1h-6zM146 327h2v1h-2zM88 328h2v1h-2zM92 328h2v1h-2zM100 328h2v1h-2zM106 328h2v1h-2zM114 328h4v1h-4zM124 328h2v1h-2zM132 328h2v1h-2zM142 328h2v1h-2zM86 329h2v1h-2zM96 329h2v1h-2zM106 329h4v1h-4zM112 329h4v1h-4zM118 329h2v1h-2zM124 329h4v1h-4zM130 329h2v1h-2zM138 329h2v1h-2zM144 329h2v1h-2zM98 330h2v1h-2zM102 330h10v1h-10zM114 330h2v1h-2zM118 330h2v1h-2zM124 330h4v1h-4zM130 330h2v1h-2zM166 330h2v1h-2zM96 331h2v1h-2zM108 331h2v1h-2zM114 331h2v1h-2zM118 331h2v1h-2zM124 331h2v1h-2zM134 331h2v1h-2zM98 332h4v1h-4zM114 332h2v1h-2zM122 332h6v1h-6zM134 332h2v1h-2zM110 333h2v1h-2zM130 333h2v1h-2zM140 333h2v1h-2zM112 334h6v1h-6zM124 334h2v1h-2zM130 334h2v1h-2zM108 335h2v1h-2zM124 335h2v1h-2zM98 336h2v1h-2zM104 336h2v1h-2zM124 336h2v1h-2zM98 337h2v1h-2zM116 337h2v1h-2zM114 342h2v1h-2zM122 343h2v1h-2z" fill="#c8101c"/><rect x="55.4" y="264.7" width="169.4" height="201.6" fill="none" stroke="#000" stroke-width="1.6"/><path d="M109.9 264.7V466.3" stroke="#000" stroke-width="1.5"/><path d="M55.4 411H224.8" stroke="#000" stroke-width="1.5"/><path d="M56.7 466.3L56.7 473.3M98.4 466.3L98.4 473.3M140.1 466.3L140.1 473.3M181.8 466.3L181.8 473.3M223.5 466.3L223.5 473.3" stroke="#000" stroke-width="1.5" fill="none"/><path d="M69.25 466.3L69.25 470.5M76.6 466.3L76.6 470.5M81.81 466.3L81.81 470.5M85.85 466.3L85.85 470.5M89.15 466.3L89.15 470.5M91.94 466.3L91.94 470.5M94.36 466.3L94.36 470.5M96.49 466.3L96.49 470.5M110.95 466.3L110.95 470.5M118.3 466.3L118.3 470.5M123.51 466.3L123.51 470.5M127.55 466.3L127.55 470.5M130.85 466.3L130.85 470.5M133.64 466.3L133.64 470.5M136.06 466.3L136.06 470.5M138.19 466.3L138.19 470.5M152.65 466.3L152.65 470.5M160 466.3L160 470.5M165.21 466.3L165.21 470.5M169.25 466.3L169.25 470.5M172.55 466.3L172.55 470.5M175.34 466.3L175.34 470.5M177.76 466.3L177.76 470.5M179.89 466.3L179.89 470.5M194.35 466.3L194.35 470.5M201.7 466.3L201.7 470.5M206.91 466.3L206.91 470.5M210.95 466.3L210.95 470.5M214.25 466.3L214.25 470.5M217.04 466.3L217.04 470.5M219.46 466.3L219.46 470.5M221.59 466.3L221.59 470.5" stroke="#000" stroke-width="1.25" fill="none"/><path d="M55.4 466L47.1 466M55.4 416L47.1 416M55.4 366L47.1 366M55.4 316L47.1 316M55.4 266L47.1 266" stroke="#000" stroke-width="1.5" fill="none"/><path d="M55.4 450.95L50.2 450.95M55.4 442.14L50.2 442.14M55.4 435.9L50.2 435.9M55.4 431.05L50.2 431.05M55.4 427.09L50.2 427.09M55.4 423.75L50.2 423.75M55.4 420.85L50.2 420.85M55.4 418.29L50.2 418.29M55.4 400.95L50.2 400.95M55.4 392.14L50.2 392.14M55.4 385.9L50.2 385.9M55.4 381.05L50.2 381.05M55.4 377.09L50.2 377.09M55.4 373.75L50.2 373.75M55.4 370.85L50.2 370.85M55.4 368.29L50.2 368.29M55.4 350.95L50.2 350.95M55.4 342.14L50.2 342.14M55.4 335.9L50.2 335.9M55.4 331.05L50.2 331.05M55.4 327.09L50.2 327.09M55.4 323.75L50.2 323.75M55.4 320.85L50.2 320.85M55.4 318.29L50.2 318.29M55.4 300.95L50.2 300.95M55.4 292.14L50.2 292.14M55.4 285.9L50.2 285.9M55.4 281.05L50.2 281.05M55.4 277.09L50.2 277.09M55.4 273.75L50.2 273.75M55.4 270.85L50.2 270.85M55.4 268.29L50.2 268.29" stroke="#000" stroke-width="1.25" fill="none"/><g transform="translate(58.5 487.8)"><text x="0" y="0" font-size="15" text-anchor="middle">10<tspan font-size="7.95" dy="-4.6" dx="0.8">0</tspan></text></g><g transform="translate(96.5 487.8)"><text x="0" y="0" font-size="15" text-anchor="middle">10<tspan font-size="7.95" dy="-4.6" dx="0.8">1</tspan></text></g><g transform="translate(139 487.8)"><text x="0" y="0" font-size="15" text-anchor="middle">10<tspan font-size="7.95" dy="-4.6" dx="0.8">2</tspan></text></g><g transform="translate(181.5 487.8)"><text x="0" y="0" font-size="15" text-anchor="middle">10<tspan font-size="7.95" dy="-4.6" dx="0.8">3</tspan></text></g><g transform="translate(223 487.8)"><text x="0" y="0" font-size="15" text-anchor="middle">10<tspan font-size="7.95" dy="-4.6" dx="0.8">4</tspan></text></g><g transform="translate(40.9 466) rotate(-90)"><text x="-7.5" y="0" font-size="15">10<tspan font-size="7.95" dy="-4.6" dx="0.8">0</tspan></text></g><g transform="translate(40.9 416) rotate(-90)"><text x="-7.5" y="0" font-size="15">10<tspan font-size="7.95" dy="-4.6" dx="0.8">1</tspan></text></g><g transform="translate(40.9 366.3) rotate(-90)"><text x="-7.5" y="0" font-size="15">10<tspan font-size="7.95" dy="-4.6" dx="0.8">2</tspan></text></g><g transform="translate(40.9 315.8) rotate(-90)"><text x="-7.5" y="0" font-size="15">10<tspan font-size="7.95" dy="-4.6" dx="0.8">3</tspan></text></g><g transform="translate(40.9 265.2) rotate(-90)"><text x="-7.5" y="0" font-size="15">10<tspan font-size="7.95" dy="-4.6" dx="0.8">4</tspan></text></g><text x="124.6" y="257.9" font-size="15.5" text-anchor="middle">Data.002</text><text x="135.7" y="506.6" font-size="15.5" text-anchor="middle">CD55 PE</text><text x="15" y="367.5" font-size="15.5" text-anchor="middle" transform="rotate(-90 15 367.5)">Side Scatter</text><path d="M334 274h4v1h-4zM332 275h2v1h-2zM336 275h2v1h-2zM328 276h10v1h-10zM325 277h3v1h-3zM332 277h6v1h-6zM340 277h3v1h-3zM326 278h12v1h-12zM340 278h2v1h-2zM324 279h14v1h-14zM340 279h4v1h-4zM346 279h1v1h-1zM320 280h28v1h-28zM318 281h4v1h-4zM324 281h8v1h-8zM334 281h14v1h-14zM317 282h33v1h-33zM318 283h34v1h-34zM317 284h35v1h-35zM318 285h22v1h-22zM342 285h11v1h-11zM317 286h35v1h-35zM317 287h1v1h-1zM320 287h34v1h-34zM317 288h19v1h-19zM340 288h8v1h-8zM350 288h4v1h-4zM317 289h9v1h-9zM328 289h26v1h-26zM317 290h13v1h-13zM332 290h24v1h-24zM317 291h21v1h-21zM340 291h16v1h-16zM317 292h40v1h-40zM317 293h41v1h-41zM317 294h41v1h-41zM317 295h9v1h-9zM328 295h30v1h-30zM317 296h27v1h-27zM346 296h12v1h-12zM317 297h1v1h-1zM320 297h2v1h-2zM324 297h18v1h-18zM344 297h12v1h-12zM317 298h3v1h-3zM322 298h36v1h-36zM317 299h42v1h-42zM317 300h11v1h-11zM330 300h29v1h-29zM317 301h41v1h-41zM317 302h19v1h-19zM338 302h20v1h-20zM317 303h42v1h-42zM317 304h27v1h-27zM346 304h13v1h-13zM317 305h42v1h-42zM317 306h21v1h-21zM340 306h18v1h-18zM317 307h35v1h-35zM354 307h4v1h-4zM317 308h13v1h-13zM332 308h6v1h-6zM340 308h19v1h-19zM317 309h39v1h-39zM317 310h41v1h-41zM317 311h41v1h-41zM317 312h23v1h-23zM342 312h10v1h-10zM354 312h2v1h-2zM318 313h20v1h-20zM340 313h17v1h-17zM317 314h17v1h-17zM336 314h18v1h-18zM356 314h1v1h-1zM317 315h39v1h-39zM317 316h7v1h-7zM326 316h10v1h-10zM338 316h18v1h-18zM317 317h13v1h-13zM332 317h23v1h-23zM317 318h21v1h-21zM340 318h14v1h-14zM317 319h35v1h-35zM318 320h32v1h-32zM317 321h35v1h-35zM317 322h33v1h-33zM318 323h32v1h-32zM318 324h2v1h-2zM322 324h28v1h-28zM320 325h4v1h-4zM326 325h18v1h-18zM346 325h2v1h-2zM321 326h23v1h-23zM346 326h1v1h-1zM323 327h1v1h-1zM328 327h4v1h-4zM334 327h4v1h-4zM325 328h1v1h-1zM332 328h4v1h-4zM340 328h2v1h-2zM328 329h4v1h-4zM334 329h2v1h-2z" fill="#e80606"/><path d="M324 266h4v1h-4zM334 266h2v1h-2zM350 266h2v1h-2zM324 267h2v1h-2zM330 267h4v1h-4zM338 267h2v1h-2zM348 267h2v1h-2zM354 267h2v1h-2zM326 268h4v1h-4zM334 268h10v1h-10zM317 269h1v1h-1zM324 269h2v1h-2zM328 269h2v1h-2zM338 269h2v1h-2zM346 269h4v1h-4zM320 270h4v1h-4zM332 270h6v1h-6zM346 270h2v1h-2zM358 270h2v1h-2zM396 270h2v1h-2zM324 271h4v1h-4zM332 271h2v1h-2zM340 271h2v1h-2zM326 272h2v1h-2zM332 272h2v1h-2zM336 272h2v1h-2zM350 272h4v1h-4zM317 273h1v1h-1zM320 273h8v1h-8zM334 273h2v1h-2zM338 273h6v1h-6zM346 273h2v1h-2zM354 273h2v1h-2zM317 274h1v1h-1zM326 274h6v1h-6zM338 274h2v1h-2zM344 274h2v1h-2zM352 274h2v1h-2zM366 274h2v1h-2zM317 275h3v1h-3zM330 275h2v1h-2zM342 275h2v1h-2zM346 275h2v1h-2zM318 276h2v1h-2zM326 276h2v1h-2zM342 276h4v1h-4zM352 276h2v1h-2zM358 276h4v1h-4zM318 277h2v1h-2zM324 277h1v1h-1zM343 277h1v1h-1zM346 277h6v1h-6zM318 278h2v1h-2zM346 278h4v1h-4zM354 278h2v1h-2zM398 278h2v1h-2zM317 279h3v1h-3zM347 279h1v1h-1zM352 279h2v1h-2zM317 280h3v1h-3zM348 280h2v1h-2zM352 280h2v1h-2zM358 280h2v1h-2zM394 280h2v1h-2zM372 281h2v1h-2zM352 282h2v1h-2zM352 283h6v1h-6zM353 285h1v1h-1zM356 285h2v1h-2zM374 285h2v1h-2zM354 286h2v1h-2zM362 286h2v1h-2zM356 287h4v1h-4zM356 288h2v1h-2zM386 288h2v1h-2zM364 290h2v1h-2zM358 291h2v1h-2zM357 292h1v1h-1zM364 292h2v1h-2zM368 293h2v1h-2zM358 294h2v1h-2zM362 294h2v1h-2zM358 295h2v1h-2zM362 295h2v1h-2zM368 295h2v1h-2zM360 296h2v1h-2zM362 297h2v1h-2zM378 298h2v1h-2zM359 299h1v1h-1zM366 299h2v1h-2zM392 299h2v1h-2zM359 300h1v1h-1zM362 300h2v1h-2zM360 301h4v1h-4zM360 302h2v1h-2zM359 303h3v1h-3zM359 304h3v1h-3zM359 305h1v1h-1zM360 306h2v1h-2zM360 307h2v1h-2zM359 308h1v1h-1zM358 309h2v1h-2zM362 309h4v1h-4zM370 309h2v1h-2zM360 310h2v1h-2zM358 311h2v1h-2zM358 312h4v1h-4zM357 313h1v1h-1zM362 313h2v1h-2zM396 313h2v1h-2zM357 314h1v1h-1zM372 314h2v1h-2zM356 315h2v1h-2zM388 315h2v1h-2zM360 316h2v1h-2zM355 317h1v1h-1zM360 317h2v1h-2zM400 317h2v1h-2zM368 318h2v1h-2zM378 318h2v1h-2zM354 319h6v1h-6zM358 320h2v1h-2zM356 321h4v1h-4zM352 322h2v1h-2zM388 323h2v1h-2zM384 324h2v1h-2zM318 325h2v1h-2zM350 325h2v1h-2zM362 325h2v1h-2zM320 326h1v1h-1zM347 326h3v1h-3zM322 327h1v1h-1zM346 327h2v1h-2zM352 327h2v1h-2zM318 328h2v1h-2zM324 328h1v1h-1zM344 328h2v1h-2zM352 328h2v1h-2zM322 329h2v1h-2zM326 329h2v1h-2zM348 329h2v1h-2zM324 330h12v1h-12zM348 330h2v1h-2zM356 330h2v1h-2zM318 331h2v1h-2zM324 331h2v1h-2zM332 331h2v1h-2zM336 331h2v1h-2zM346 331h2v1h-2zM324 332h2v1h-2zM330 332h4v1h-4zM340 332h2v1h-2zM344 332h4v1h-4zM350 332h2v1h-2zM354 332h2v1h-2zM317 333h1v1h-1zM324 333h2v1h-2zM336 333h2v1h-2zM342 333h2v1h-2zM322 334h2v1h-2zM334 334h2v1h-2zM317 335h1v1h-1zM320 336h2v1h-2zM338 336h2v1h-2zM330 337h2v1h-2zM342 338h2v1h-2zM334 339h2v1h-2zM348 339h2v1h-2zM322 341h4v1h-4zM330 343h2v1h-2zM336 343h2v1h-2zM340 343h2v1h-2zM332 344h2v1h-2zM344 346h2v1h-2z" fill="#c8101c"/><rect x="315.9" y="265.5" width="145.3" height="200.1" fill="none" stroke="#000" stroke-width="1.6"/><path d="M355.6 265.5V465.6" stroke="#000" stroke-width="1.5"/><path d="M315.9 407.7H461.2" stroke="#000" stroke-width="1.5"/><path d="M317.2 465.6L317.2 472.8M352.8 465.6L352.8 472.8M388.4 465.6L388.4 472.8M424 465.6L424 472.8M459.6 465.6L459.6 472.8" stroke="#000" stroke-width="1.5" fill="none"/><path d="M327.92 465.6L327.92 469.5M334.19 465.6L334.19 469.5M338.63 465.6L338.63 469.5M342.08 465.6L342.08 469.5M344.9 465.6L344.9 469.5M347.29 465.6L347.29 469.5M349.35 465.6L349.35 469.5M351.17 465.6L351.17 469.5M363.52 465.6L363.52 469.5M369.79 465.6L369.79 469.5M374.23 465.6L374.23 469.5M377.68 465.6L377.68 469.5M380.5 465.6L380.5 469.5M382.89 465.6L382.89 469.5M384.95 465.6L384.95 469.5M386.77 465.6L386.77 469.5M399.12 465.6L399.12 469.5M405.39 465.6L405.39 469.5M409.83 465.6L409.83 469.5M413.28 465.6L413.28 469.5M416.1 465.6L416.1 469.5M418.49 465.6L418.49 469.5M420.55 465.6L420.55 469.5M422.37 465.6L422.37 469.5M434.72 465.6L434.72 469.5M440.99 465.6L440.99 469.5M445.43 465.6L445.43 469.5M448.88 465.6L448.88 469.5M451.7 465.6L451.7 469.5M454.09 465.6L454.09 469.5M456.15 465.6L456.15 469.5M457.97 465.6L457.97 469.5" stroke="#000" stroke-width="1.25" fill="none"/><path d="M315.9 464.8L309.4 464.8M315.9 415.3L309.4 415.3M315.9 365.8L309.4 365.8M315.9 316.3L309.4 316.3M315.9 266.8L309.4 266.8" stroke="#000" stroke-width="1.5" fill="none"/><path d="M315.9 449.9L312.1 449.9M315.9 441.18L312.1 441.18M315.9 435L312.1 435M315.9 430.2L312.1 430.2M315.9 426.28L312.1 426.28M315.9 422.97L312.1 422.97M315.9 420.1L312.1 420.1M315.9 417.56L312.1 417.56M315.9 400.4L312.1 400.4M315.9 391.68L312.1 391.68M315.9 385.5L312.1 385.5M315.9 380.7L312.1 380.7M315.9 376.78L312.1 376.78M315.9 373.47L312.1 373.47M315.9 370.6L312.1 370.6M315.9 368.06L312.1 368.06M315.9 350.9L312.1 350.9M315.9 342.18L312.1 342.18M315.9 336L312.1 336M315.9 331.2L312.1 331.2M315.9 327.28L312.1 327.28M315.9 323.97L312.1 323.97M315.9 321.1L312.1 321.1M315.9 318.56L312.1 318.56M315.9 301.4L312.1 301.4M315.9 292.68L312.1 292.68M315.9 286.5L312.1 286.5M315.9 281.7L312.1 281.7M315.9 277.78L312.1 277.78M315.9 274.47L312.1 274.47M315.9 271.6L312.1 271.6M315.9 269.06L312.1 269.06" stroke="#000" stroke-width="1.25" fill="none"/><g transform="translate(319.5 487.6)"><text x="0" y="0" font-size="15" text-anchor="middle">10<tspan font-size="7.95" dy="-4.6" dx="0.8">0</tspan></text></g><g transform="translate(356.5 487.6)"><text x="0" y="0" font-size="15" text-anchor="middle">10<tspan font-size="7.95" dy="-4.6" dx="0.8">1</tspan></text></g><g transform="translate(393.2 487.6)"><text x="0" y="0" font-size="15" text-anchor="middle">10<tspan font-size="7.95" dy="-4.6" dx="0.8">2</tspan></text></g><g transform="translate(428.3 487.6)"><text x="0" y="0" font-size="15" text-anchor="middle">10<tspan font-size="7.95" dy="-4.6" dx="0.8">3</tspan></text></g><g transform="translate(463.9 487.6)"><text x="0" y="0" font-size="15" text-anchor="middle">10<tspan font-size="7.95" dy="-4.6" dx="0.8">4</tspan></text></g><g transform="translate(306 463.8) rotate(-90)"><text x="-7.5" y="0" font-size="15">10<tspan font-size="7.95" dy="-4.6" dx="0.8">0</tspan></text></g><g transform="translate(306 415) rotate(-90)"><text x="-7.5" y="0" font-size="15">10<tspan font-size="7.95" dy="-4.6" dx="0.8">1</tspan></text></g><g transform="translate(306 365.6) rotate(-90)"><text x="-7.5" y="0" font-size="15">10<tspan font-size="7.95" dy="-4.6" dx="0.8">2</tspan></text></g><g transform="translate(306 316) rotate(-90)"><text x="-7.5" y="0" font-size="15">10<tspan font-size="7.95" dy="-4.6" dx="0.8">3</tspan></text></g><g transform="translate(306 264) rotate(-90)"><text x="-7.5" y="0" font-size="15">10<tspan font-size="7.95" dy="-4.6" dx="0.8">4</tspan></text></g><text x="384.7" y="257.9" font-size="15.5" text-anchor="middle">Data.003</text><text x="386.1" y="506" font-size="15.5" text-anchor="middle">CD35 FITC</text><text x="285.3" y="365.6" font-size="15.5" text-anchor="middle" transform="rotate(-90 285.3 365.6)">Side Scatter</text><rect x="111.3" y="546.3" width="286.2" height="143.5" fill="none" stroke="#000" stroke-width="1.5"/><path d="M111 689.6 L111 671 L113.5 671 L113.5 686.78 L114 686.78 L115 686.78 L115 685.62 L116 685.62 L116 686.97 L117 686.97 L117 687.23 L118 687.23 L118 684.48 L119 684.48 L119 685.64 L120 685.64 L120 683.44 L121 683.44 L121 684.23 L122 684.23 L122 687.25 L123 687.25 L123 684.85 L124 684.85 L124 685.58 L125 685.58 L125 684.49 L126 684.49 L126 683.88 L127 683.88 L127 682.93 L128 682.93 L128 686.05 L129 686.05 L129 685.72 L130 685.72 L130 684.61 L131 684.61 L131 685.4 L132 685.4 L132 684.95 L133 684.95 L133 682.76 L134 682.76 L134 685.64 L135 685.64 L135 685.03 L136 685.03 L136 679.66 L137 679.66 L137 685.76 L138 685.76 L138 682.16 L139 682.16 L139 677.05 L140 677.05 L140 678.73 L141 678.73 L141 678.94 L142 678.94 L142 682.22 L143 682.22 L143 680.31 L144 680.31 L144 681.74 L145 681.74 L145 679.35 L146 679.35 L146 680.11 L147 680.11 L147 678.47 L148 678.47 L148 677.41 L149 677.41 L149 675.37 L150 675.37 L150 673.29 L151 673.29 L151 673.8 L152 673.8 L152 670.76 L153 670.76 L153 670.14 L154 670.14 L154 669.96 L155 669.96 L155 670 L156 670 L156 671.1 L157 671.1 L157 670.36 L158 670.36 L158 664.18 L159 664.18 L159 661.54 L160 661.54 L160 668.85 L161 668.85 L161 656.09 L162 656.09 L162 661.75 L163 661.75 L163 661.12 L164 661.12 L164 657.28 L165 657.28 L165 660.33 L166 660.33 L166 656.4 L167 656.4 L167 648.08 L168 648.08 L168 649.01 L169 649.01 L169 643.18 L170 643.18 L170 643.02 L171 643.02 L171 634.62 L172 634.62 L172 641.07 L173 641.07 L173 633.31 L174 633.31 L174 633.81 L175 633.81 L175 627.81 L176 627.81 L176 620.57 L177 620.57 L177 616.96 L178 616.96 L178 618.73 L179 618.73 L179 613.77 L180 613.77 L180 621.14 L181 621.14 L181 614.46 L182 614.46 L182 603.8 L183 603.8 L183 600.77 L184 600.77 L184 608.77 L185 608.77 L185 596.57 L186 596.57 L186 604.67 L187 604.67 L187 584.69 L188 584.69 L188 594.36 L189 594.36 L189 589.12 L190 589.12 L190 578.47 L191 578.47 L191 577.68 L192 577.68 L192 584.71 L193 584.71 L193 578.63 L194 578.63 L194 565.7 L195 565.7 L195 570.3 L196 570.3 L196 585.5 L197 585.5 L197 546.5 L198 546.5 L198 555.32 L199 555.32 L199 562.45 L200 562.45 L200 579.63 L201 579.63 L201 573.13 L202 573.13 L202 570.22 L203 570.22 L203 558.44 L204 558.44 L204 566.07 L205 566.07 L205 554.36 L206 554.36 L206 558 L207 558 L207 546.5 L208 546.5 L208 547.78 L209 547.78 L209 562.54 L210 562.54 L210 572.25 L211 572.25 L211 592.75 L212 592.75 L212 590.81 L213 590.81 L213 567.87 L214 567.87 L214 556.3 L215 556.3 L215 558.8 L216 558.8 L216 581.5 L217 581.5 L217 575.13 L218 575.13 L218 569 L219 569 L219 586.19 L220 586.19 L220 566.46 L221 566.46 L221 570.8 L222 570.8 L222 565.96 L223 565.96 L223 566.78 L224 566.78 L224 563.97 L225 563.97 L225 579.58 L226 579.58 L226 585.53 L227 585.53 L227 559.61 L228 559.61 L228 576.07 L229 576.07 L229 586.09 L230 586.09 L230 579.61 L231 579.61 L231 588.6 L232 588.6 L232 583.81 L233 583.81 L233 573.94 L234 573.94 L234 597.13 L235 597.13 L235 607.72 L236 607.72 L236 601.08 L237 601.08 L237 605.17 L238 605.17 L238 593.88 L239 593.88 L239 606.2 L240 606.2 L240 615.13 L241 615.13 L241 622.09 L242 622.09 L242 608.38 L243 608.38 L243 626.96 L244 626.96 L244 634.47 L245 634.47 L245 643.99 L246 643.99 L246 621.55 L247 621.55 L247 631.66 L248 631.66 L248 629.32 L249 629.32 L249 642.61 L250 642.61 L250 648.71 L251 648.71 L251 649.26 L252 649.26 L252 651.49 L253 651.49 L253 660.59 L254 660.59 L254 647.94 L255 647.94 L255 652.67 L256 652.67 L256 647.93 L257 647.93 L257 664.4 L258 664.4 L258 664.23 L259 664.23 L259 663.77 L260 663.77 L260 668.73 L261 668.73 L261 666.81 L262 666.81 L262 673.15 L263 673.15 L263 678.16 L264 678.16 L264 676.15 L265 676.15 L265 674.58 L266 674.58 L266 676.19 L267 676.19 L267 683.11 L268 683.11 L268 681.81 L269 681.81 L269 678.66 L270 678.66 L270 681.84 L271 681.84 L271 681.42 L272 681.42 L272 680.31 L273 680.31 L273 686.41 L274 686.41 L274 683.54 L275 683.54 L275 684.85 L276 684.85 L276 685.97 L277 685.97 L277 684.51 L278 684.51 L278 689.03 L279 689.03 L279 684.54 L280 684.54 L280 687.38 L281 687.38 L281 686.91 L282 686.91 L282 687.72 L283 687.72 L283 688.77 L284 688.77 L284 687.43 L285 687.43 L285 689.6 L286 689.6 L286 689.07 L287 689.07 L287 688.88 L288 688.88 L288 688.72 L289 688.72 L289 688.03 L290 688.03 L290 688.81 L291 688.81 L291 688.28 L292 688.28 L292 689.2 L293 689.2 L293 689.6 L294 689.6 L294 689.6 L295 689.6 L295 688.84 L296 688.84 L296 689.6 Z" fill="#4c08d4" stroke="#000" stroke-width="1" stroke-linejoin="miter"/><path d="M160 684.13 L161 684.13 L161 687.14 L162 687.14 L162 685.44 L163 685.44 L163 684.36 L164 684.36 L164 682.21 L165 682.21 L165 685.17 L166 685.17 L166 686.03 L167 686.03 L167 683.17 L168 683.17 L168 684 L169 684 L169 681.26 L170 681.26 L170 682.36 L171 682.36 L171 680.58 L172 680.58 L172 682.32 L173 682.32 L173 685.71 L174 685.71 L174 683 L175 683 L175 682.04 L176 682.04 L176 678.6 L177 678.6 L177 678.97 L178 678.97 L178 678.59 L179 678.59 L179 679.88 L180 679.88 L180 677.63 L181 677.63 L181 676.06 L182 676.06 L182 678.3 L183 678.3 L183 676.56 L184 676.56 L184 681.33 L185 681.33 L185 675.8 L186 675.8 L186 677.67 L187 677.67 L187 675.33 L188 675.33 L188 674.69 L189 674.69 L189 673.77 L190 673.77 L190 675.75 L191 675.75 L191 672.53 L192 672.53 L192 672.79 L193 672.79 L193 672.58 L194 672.58 L194 667.45 L195 667.45 L195 672.5 L196 672.5 L196 673.58 L197 673.58 L197 671.05 L198 671.05 L198 666.69 L199 666.69 L199 671.61 L200 671.61 L200 662.68 L201 662.68 L201 665.24 L202 665.24 L202 667.86 L203 667.86 L203 664.04 L204 664.04 L204 661.31 L205 661.31 L205 665.12 L206 665.12 L206 665.49 L207 665.49 L207 662.71 L208 662.71 L208 660.87 L209 660.87 L209 661.93 L210 661.93 L210 659.86 L211 659.86 L211 659.11 L212 659.11 L212 656.24 L213 656.24 L213 654.41 L214 654.41 L214 649.25 L215 649.25 L215 652.03 L216 652.03 L216 654.65 L217 654.65 L217 650.6 L218 650.6 L218 654.28 L219 654.28 L219 650.8 L220 650.8 L220 650.36 L221 650.36 L221 643.86 L222 643.86 L222 647.17 L223 647.17 L223 648.65 L224 648.65 L224 641.79 L225 641.79 L225 639.6 L226 639.6 L226 642.32 L227 642.32 L227 646.78 L228 646.78 L228 650.06 L229 650.06 L229 640.26 L230 640.26 L230 639.18 L231 639.18 L231 632.54 L232 632.54 L232 640.01 L233 640.01 L233 641.62 L234 641.62 L234 637.8 L235 637.8 L235 637.82 L236 637.82 L236 637 L237 637 L237 638.98 L238 638.98 L238 628.06 L239 628.06 L239 630.99 L240 630.99 L240 631.03 L241 631.03 L241 639.67 L242 639.67 L242 635.99 L243 635.99 L243 632.2 L244 632.2 L244 629.72 L245 629.72 L245 627.12 L246 627.12 L246 630.43 L247 630.43 L247 641.23 L248 641.23 L248 633.96 L249 633.96 L249 641.32 L250 641.32 L250 639.9 L251 639.9 L251 640.39 L252 640.39 L252 633.17 L253 633.17 L253 641.65 L254 641.65 L254 641.25 L255 641.25 L255 639.08 L256 639.08 L256 631.5 L257 631.5 L257 625.08 L258 625.08 L258 629.94 L259 629.94 L259 621.21 L260 621.21 L260 634.36 L261 634.36 L261 644.78 L262 644.78 L262 643.3 L263 643.3 L263 653.73 L264 653.73 L264 652.74 L265 652.74 L265 651.81 L266 651.81 L266 662.2 L267 662.2 L267 663.2 L268 663.2 L268 657.19 L269 657.19 L269 666.86 L270 666.86 L270 665.92 L271 665.92 L271 666.26 L272 666.26 L272 665.99 L273 665.99 L273 668.42 L274 668.42 L274 674.27 L275 674.27 L275 671.12 L276 671.12 L276 673.61 L277 673.61 L277 679.03 L278 679.03 L278 679.26 L279 679.26 L279 677.55 L280 677.55 L280 682.75 L281 682.75 L281 679.71 L282 679.71 L282 681.64 L283 681.64 L283 683.89 L284 683.89 L284 683.96 L285 683.96 L285 682.52 L286 682.52 L286 685.65 L287 685.65 L287 683.87 L288 683.87 L288 684.46 L289 684.46 L289 685.31 L290 685.31 L290 685.22 L291 685.22 L291 685.56 L292 685.56 L292 686.6 L293 686.6 L293 687.69 L294 687.69 L294 686.21 L295 686.21 L295 687.64 L296 687.64 L296 688.13 L297 688.13 L297 689.29 L298 689.29 L298 688.23 L299 688.23 L299 688.23 L300 688.23 L300 688.43 L301 688.43 L301 688.67 L302 688.67 L302 688.79 L303 688.79 L303 688.92 L304 688.92 L304 689.04 L305 689.04 L305 689.1 L306 689.1 L306 689.1 L307 689.1 L307 689.1 L308 689.1 L308 689.1 L309 689.1 L309 689.1 L310 689.1 L310 689.11 L311 689.11 L311 689.11 L312 689.11 L312 689.11 L313 689.11 L313 689.11 L314 689.11 L314 689.11 L315 689.11 L315 689.11 L316 689.11" fill="none" stroke="#202030" stroke-width="3.5"/><path d="M112 687.88 L113 687.88 L113 688.37 L114 688.37 L114 688.64 L115 688.64 L115 688.4 L116 688.4 L116 688.48 L117 688.48 L117 688.44 L118 688.44 L118 687.58 L119 687.58 L119 688.96 L120 688.96 L120 688.2 L121 688.2 L121 687.63 L122 687.63 L122 688.46 L123 688.46 L123 687.29 L124 687.29 L124 688.46 L125 688.46 L125 688.9 L126 688.9 L126 688.64 L127 688.64 L127 686.45 L128 686.45 L128 685.61 L129 685.61 L129 686.92 L130 686.92 L130 687.98 L131 687.98 L131 688.03 L132 688.03 L132 687.28 L133 687.28 L133 686.88 L134 686.88 L134 686.78 L135 686.78 L135 687.9 L136 687.9 L136 687.14 L137 687.14 L137 687.32 L138 687.32 L138 687.12 L139 687.12 L139 688.57 L140 688.57 L140 687.1 L141 687.1 L141 686.73 L142 686.73 L142 687.3 L143 687.3 L143 687.37 L144 687.37 L144 687.66 L145 687.66 L145 687.01 L146 687.01 L146 689.29 L147 689.29 L147 686.9 L148 686.9 L148 687.08 L149 687.08 L149 685.62 L150 685.62 L150 686.54 L151 686.54 L151 686.27 L152 686.27 L152 684.16 L153 684.16 L153 687.23 L154 687.23 L154 685.35 L155 685.35 L155 687.56 L156 687.56 L156 687.91 L157 687.91 L157 686.81 L158 686.81 L158 684.81 L159 684.81 L159 688.27 L160 688.27 L160 684.13 L161 684.13 L161 687.14 L162 687.14 L162 685.44 L163 685.44 L163 684.36 L164 684.36 L164 682.21 L165 682.21 L165 685.17 L166 685.17 L166 686.03 L167 686.03 L167 683.17 L168 683.17 L168 684 L169 684 L169 681.26 L170 681.26 L170 682.36 L171 682.36 L171 680.58 L172 680.58 L172 682.32 L173 682.32 L173 685.71 L174 685.71 L174 683 L175 683 L175 682.04 L176 682.04 L176 678.6 L177 678.6 L177 678.97 L178 678.97 L178 678.59 L179 678.59 L179 679.88 L180 679.88 L180 677.63 L181 677.63 L181 676.06 L182 676.06 L182 678.3 L183 678.3 L183 676.56 L184 676.56 L184 681.33 L185 681.33 L185 675.8 L186 675.8 L186 677.67 L187 677.67 L187 675.33 L188 675.33 L188 674.69 L189 674.69 L189 673.77 L190 673.77 L190 675.75 L191 675.75 L191 672.53 L192 672.53 L192 672.79 L193 672.79 L193 672.58 L194 672.58 L194 667.45 L195 667.45 L195 672.5 L196 672.5 L196 673.58 L197 673.58 L197 671.05 L198 671.05 L198 666.69 L199 666.69 L199 671.61 L200 671.61 L200 662.68 L201 662.68 L201 665.24 L202 665.24 L202 667.86 L203 667.86 L203 664.04 L204 664.04 L204 661.31 L205 661.31 L205 665.12 L206 665.12 L206 665.49 L207 665.49 L207 662.71 L208 662.71 L208 660.87 L209 660.87 L209 661.93 L210 661.93 L210 659.86 L211 659.86 L211 659.11 L212 659.11 L212 656.24 L213 656.24 L213 654.41 L214 654.41 L214 649.25 L215 649.25 L215 652.03 L216 652.03 L216 654.65 L217 654.65 L217 650.6 L218 650.6 L218 654.28 L219 654.28 L219 650.8 L220 650.8 L220 650.36 L221 650.36 L221 643.86 L222 643.86 L222 647.17 L223 647.17 L223 648.65 L224 648.65 L224 641.79 L225 641.79 L225 639.6 L226 639.6 L226 642.32 L227 642.32 L227 646.78 L228 646.78 L228 650.06 L229 650.06 L229 640.26 L230 640.26 L230 639.18 L231 639.18 L231 632.54 L232 632.54 L232 640.01 L233 640.01 L233 641.62 L234 641.62 L234 637.8 L235 637.8 L235 637.82 L236 637.82 L236 637 L237 637 L237 638.98 L238 638.98 L238 628.06 L239 628.06 L239 630.99 L240 630.99 L240 631.03 L241 631.03 L241 639.67 L242 639.67 L242 635.99 L243 635.99 L243 632.2 L244 632.2 L244 629.72 L245 629.72 L245 627.12 L246 627.12 L246 630.43 L247 630.43 L247 641.23 L248 641.23 L248 633.96 L249 633.96 L249 641.32 L250 641.32 L250 639.9 L251 639.9 L251 640.39 L252 640.39 L252 633.17 L253 633.17 L253 641.65 L254 641.65 L254 641.25 L255 641.25 L255 639.08 L256 639.08 L256 631.5 L257 631.5 L257 625.08 L258 625.08 L258 629.94 L259 629.94 L259 621.21 L260 621.21 L260 634.36 L261 634.36 L261 644.78 L262 644.78 L262 643.3 L263 643.3 L263 653.73 L264 653.73 L264 652.74 L265 652.74 L265 651.81 L266 651.81 L266 662.2 L267 662.2 L267 663.2 L268 663.2 L268 657.19 L269 657.19 L269 666.86 L270 666.86 L270 665.92 L271 665.92 L271 666.26 L272 666.26 L272 665.99 L273 665.99 L273 668.42 L274 668.42 L274 674.27 L275 674.27 L275 671.12 L276 671.12 L276 673.61 L277 673.61 L277 679.03 L278 679.03 L278 679.26 L279 679.26 L279 677.55 L280 677.55 L280 682.75 L281 682.75 L281 679.71 L282 679.71 L282 681.64 L283 681.64 L283 683.89 L284 683.89 L284 683.96 L285 683.96 L285 682.52 L286 682.52 L286 685.65 L287 685.65 L287 683.87 L288 683.87 L288 684.46 L289 684.46 L289 685.31 L290 685.31 L290 685.22 L291 685.22 L291 685.56 L292 685.56 L292 686.6 L293 686.6 L293 687.69 L294 687.69 L294 686.21 L295 686.21 L295 687.64 L296 687.64 L296 688.13 L297 688.13 L297 689.29 L298 689.29 L298 688.23 L299 688.23 L299 688.23 L300 688.23 L300 688.43 L301 688.43 L301 688.67 L302 688.67 L302 688.79 L303 688.79 L303 688.92 L304 688.92 L304 689.04 L305 689.04 L305 689.1 L306 689.1 L306 689.1 L307 689.1 L307 689.1 L308 689.1 L308 689.1 L309 689.1 L309 689.1 L310 689.1 L310 689.11 L311 689.11 L311 689.11 L312 689.11 L312 689.11 L313 689.11 L313 689.11 L314 689.11 L314 689.11 L315 689.11 L315 689.11 L316 689.11 L316 689.11 L317 689.11 L317 689.11 L318 689.11 L318 689.11 L319 689.11 L319 689.12 L320 689.12 L320 689.12 L321 689.12 L321 689.12 L322 689.12 L322 689.12 L323 689.12 L323 689.12 L324 689.12 L324 689.12 L325 689.12 L325 689.12 L326 689.12 L326 689.12 L327 689.12 L327 689.12 L328 689.12 L328 689.13 L329 689.13 L329 689.13 L330 689.13 L330 689.13 L331 689.13 L331 689.13 L332 689.13 L332 689.13 L333 689.13 L333 689.13 L334 689.13 L334 689.13 L335 689.13 L335 689.13 L336 689.13 L336 689.13 L337 689.13 L337 689.14 L338 689.14 L338 689.14 L339 689.14 L339 689.14 L340 689.14 L340 689.14 L341 689.14 L341 689.14 L342 689.14 L342 689.14 L343 689.14 L343 689.14 L344 689.14 L344 689.14 L345 689.14 L345 689.14 L346 689.14 L346 689.15 L347 689.15 L347 689.15 L348 689.15 L348 689.15 L349 689.15 L349 689.15 L350 689.15 L350 689.15 L351 689.15 L351 689.15 L352 689.15 L352 689.15 L353 689.15 L353 689.15 L354 689.15 L354 689.15 L355 689.15 L355 689.15 L356 689.15 L356 689.16 L357 689.16 L357 689.16 L358 689.16 L358 689.16 L359 689.16 L359 689.16 L360 689.16 L360 689.16 L361 689.16 L361 689.16 L362 689.16 L362 689.16 L363 689.16 L363 689.16 L364 689.16 L364 689.16 L365 689.16 L365 689.17 L366 689.17 L366 689.17 L367 689.17 L367 689.17 L368 689.17 L368 689.17 L369 689.17 L369 689.17 L370 689.17 L370 689.17 L371 689.17 L371 689.17 L372 689.17 L372 689.17 L373 689.17 L373 689.17 L374 689.17 L374 689.18 L375 689.18 L375 689.18 L376 689.18 L376 689.18 L377 689.18 L377 689.18 L378 689.18 L378 689.18 L379 689.18 L379 689.18 L380 689.18 L380 689.18 L381 689.18 L381 689.18 L382 689.18 L382 689.18 L383 689.18 L383 689.19 L384 689.19 L384 689.19 L385 689.19 L385 689.19 L386 689.19 L386 689.19 L387 689.19 L387 689.19 L388 689.19 L388 689.19 L389 689.19 L389 689.19 L390 689.19 L390 689.19 L391 689.19 L391 689.19 L392 689.19 L392 689.2 L393 689.2 L393 689.2 L394 689.2 L394 689.2 L395 689.2 L395 689.2 L396 689.2 L396 689.2 L397 689.2" fill="none" stroke="#14ee14" stroke-width="2.9"/><path d="M329.6 688.2L332.2 684.6L334.8 688.2ZM339.2 688.2L341.8 684.6L344.4 688.2Z" fill="#000"/><path d="M120.8 588V616M120.8 602H181M181 588V628M181 614H300.5M300.5 600V628" stroke="#000" stroke-width="1.6" fill="none"/><text x="147.8" y="585.3" font-size="15" text-anchor="middle">M2</text><text x="269" y="602" font-size="15" text-anchor="middle">M1</text><path d="M111.3 689.6H103.8M111.3 663.2H103.8M111.3 636.8H103.8M111.3 610.4H103.8M111.3 584H103.8M111.3 557.6H103.8" stroke="#000" stroke-width="1.4"/><path d="M111.3 684.32H107.5M111.3 679.04H107.5M111.3 673.76H107.5M111.3 668.48H107.5M111.3 657.92H107.5M111.3 652.64H107.5M111.3 647.36H107.5M111.3 642.08H107.5M111.3 631.52H107.5M111.3 626.24H107.5M111.3 620.96H107.5M111.3 615.68H107.5M111.3 605.12H107.5M111.3 599.84H107.5M111.3 594.56H107.5M111.3 589.28H107.5M111.3 578.72H107.5M111.3 573.44H107.5M111.3 568.16H107.5M111.3 562.88H107.5M111.3 552.32H107.5M111.3 547.04H107.5" stroke="#000" stroke-width="1.1"/><text x="0" y="0" font-size="14" text-anchor="middle" transform="translate(97.9 690.9) rotate(-90)">0</text><text x="0" y="0" font-size="14" text-anchor="middle" transform="translate(97.9 664.5) rotate(-90)">10</text><text x="0" y="0" font-size="14" text-anchor="middle" transform="translate(97.9 638.1) rotate(-90)">20</text><text x="0" y="0" font-size="14" text-anchor="middle" transform="translate(97.9 611.7) rotate(-90)">30</text><text x="0" y="0" font-size="14" text-anchor="middle" transform="translate(97.9 585.3) rotate(-90)">40</text><text x="0" y="0" font-size="14" text-anchor="middle" transform="translate(97.9 558.9) rotate(-90)">50</text><text x="0" y="0" font-size="16" text-anchor="middle" transform="translate(80 622.6) rotate(-90)">Counts</text><path d="M112.2 689.8L112.2 697.3M183 689.8L183 697.3M253.8 689.8L253.8 697.3M324.6 689.8L324.6 697.3M395.4 689.8L395.4 697.3" stroke="#000" stroke-width="1.5" fill="none"/><path d="M133.51 689.8L133.51 693.8M145.98 689.8L145.98 693.8M154.83 689.8L154.83 693.8M161.69 689.8L161.69 693.8M167.29 689.8L167.29 693.8M172.03 689.8L172.03 693.8M176.14 689.8L176.14 693.8M179.76 689.8L179.76 693.8M204.31 689.8L204.31 693.8M216.78 689.8L216.78 693.8M225.63 689.8L225.63 693.8M232.49 689.8L232.49 693.8M238.09 689.8L238.09 693.8M242.83 689.8L242.83 693.8M246.94 689.8L246.94 693.8M250.56 689.8L250.56 693.8M275.11 689.8L275.11 693.8M287.58 689.8L287.58 693.8M296.43 689.8L296.43 693.8M303.29 689.8L303.29 693.8M308.89 689.8L308.89 693.8M313.63 689.8L313.63 693.8M317.74 689.8L317.74 693.8M321.36 689.8L321.36 693.8M345.91 689.8L345.91 693.8M358.38 689.8L358.38 693.8M367.23 689.8L367.23 693.8M374.09 689.8L374.09 693.8M379.69 689.8L379.69 693.8M384.43 689.8L384.43 693.8M388.54 689.8L388.54 693.8M392.16 689.8L392.16 693.8" stroke="#000" stroke-width="1.25" fill="none"/><g transform="translate(113.2 712.7)"><text x="-7" y="0" font-size="14">10<tspan font-size="7.5" dy="-4.6" dx="0.8">0</tspan></text></g><g transform="translate(181.9 712.7)"><text x="-7" y="0" font-size="14">10<tspan font-size="7.5" dy="-4.6" dx="0.8">1</tspan></text></g><g transform="translate(257.5 712.7)"><text x="-7" y="0" font-size="14">10<tspan font-size="7.5" dy="-4.6" dx="0.8">2</tspan></text></g><g transform="translate(324.6 712.7)"><text x="-7" y="0" font-size="14">10<tspan font-size="7.5" dy="-4.6" dx="0.8">3</tspan></text></g><g transform="translate(396.4 712.7)"><text x="-7" y="0" font-size="14">10<tspan font-size="7.5" dy="-4.6" dx="0.8">4</tspan></text></g><text x="254.7" y="731.4" font-size="15" text-anchor="middle">CD55 PE</text></svg></body></html>
